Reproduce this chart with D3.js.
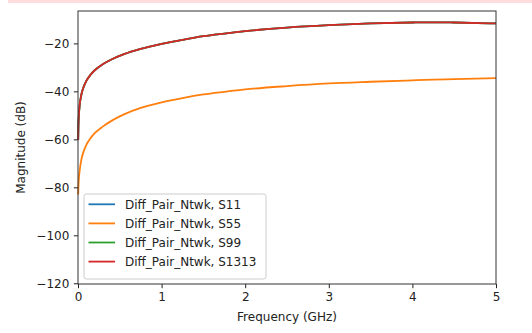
<!DOCTYPE html>
<html>
<head>
<meta charset="utf-8">
<script src="https://cdn.jsdelivr.net/npm/d3@7"></script>
<style>
  body { margin: 0; background: #fff; }
  svg { display: block; font-family: "DejaVu Sans", sans-serif; }
</style>
</head>
<body>
<svg id="chart" width="532" height="333"></svg>
<script>
// ---- data ----
const freqGHz = [0.002, 0.005, 0.01, 0.02, 0.04, 0.07, 0.1, 0.15, 0.2, 0.3, 0.4, 0.55, 0.75,
                 1.0, 1.25, 1.5, 1.75, 2.0, 2.5, 3.0, 3.5, 4.0, 4.25, 4.5, 5.0];
const upperDb = [-60.3, -54.5, -50.2, -45.8, -41.4, -37.9, -35.6, -33.1, -31.2, -28.6, -26.7, -24.5, -22.3,
                 -20.2, -18.5, -17.0, -15.9, -14.9, -13.4, -12.4, -11.7, -11.3, -11.2, -11.3, -11.7];
const lowerDb = [-83, -80, -76.5, -73, -68.5, -64.8, -62.3, -59.5, -57.4, -54.6, -52.3, -49.6, -46.9,
                 -44.6, -42.8, -41.3, -40.2, -39.2, -37.8, -36.7, -36.0, -35.4, -35.1, -34.9, -34.5];
const seriesNames = ["Diff_Pair_Ntwk, S11", "Diff_Pair_Ntwk, S55", "Diff_Pair_Ntwk, S99", "Diff_Pair_Ntwk, S1313"];
const seriesValues = [upperDb, lowerDb, upperDb, upperDb];
const seriesColors = ["#1f77b4", "#ff7f0e", "#2ca02c", "#d62728"];
const xTicks = [0, 1, 2, 3, 4, 5];
const yTicks = [-120, -100, -80, -60, -40, -20];

// ---- layout ----
const svg = d3.select("#chart");
const L = 78, R = 496, T = 11, B = 284;
const x = d3.scaleLinear().domain([0, 5]).range([L, R]);
const y = d3.scaleLinear().domain([-120.3, -6.5]).range([B, T]);

// pink stderr strip at top
svg.append("rect").attr("x", 8).attr("y", 0).attr("width", 524).attr("height", 3).attr("fill", "#ffdddd");

// lines
const line = d3.line().x((d, i) => x(freqGHz[i])).y(d => y(d)).curve(d3.curveMonotoneX);
seriesValues.forEach((vals, k) => {
  svg.append("path").datum(vals).attr("d", line)
    .attr("fill", "none").attr("stroke", seriesColors[k]).attr("stroke-width", 1.8)
    .attr("stroke-linejoin", "round").attr("stroke-linecap", "butt");
});

// axes
const fmt = d => (d < 0 ? "\u2212" + Math.abs(d) : String(d));
const xAxis = svg.append("g").attr("transform", `translate(0,${B})`)
  .call(d3.axisBottom(x).tickValues(xTicks).tickFormat(fmt).tickSizeOuter(0).tickSize(4.2).tickPadding(4.2));
const yAxis = svg.append("g").attr("transform", `translate(${L},0)`)
  .call(d3.axisLeft(y).tickValues(yTicks).tickFormat(fmt).tickSizeOuter(0).tickSize(4.2).tickPadding(4.5));
[xAxis, yAxis].forEach(g => {
  g.select(".domain").remove();
  g.selectAll("line").attr("stroke", "#222").attr("stroke-width", 1);
  g.selectAll("text").attr("fill", "#222").style("font-size", "12px").style("font-family", "DejaVu Sans");
});

// frame
svg.append("rect").attr("x", L).attr("y", T).attr("width", R - L).attr("height", B - T)
  .attr("fill", "none").attr("stroke", "#333").attr("stroke-width", 1);

// axis labels
svg.append("text").attr("x", (L + R) / 2).attr("y", 321).attr("text-anchor", "middle")
  .style("font-size", "12px").attr("fill", "#222").text("Frequency (GHz)");
svg.append("text").attr("transform", `translate(25,${(T + B) / 2}) rotate(-90)`).attr("text-anchor", "middle")
  .style("font-size", "12px").attr("fill", "#222").text("Magnitude (dB)");

// legend
const lg = svg.append("g");
lg.append("rect").attr("x", 84).attr("y", 194).attr("width", 182).attr("height", 85).attr("rx", 2.5)
  .attr("fill", "#fff").attr("fill-opacity", 0.8).attr("stroke", "#ccc").attr("stroke-width", 1);
seriesNames.forEach((name, k) => {
  const yy = 204.3 + k * 19.1;
  lg.append("line").attr("x1", 88.5).attr("x2", 115).attr("y1", yy).attr("y2", yy)
    .attr("stroke", seriesColors[k]).attr("stroke-width", 1.8);
  lg.append("text").attr("x", 125).attr("y", yy).attr("dy", "0.36em")
    .style("font-size", "12px").attr("fill", "#222").text(name);
});
</script>
</body>
</html>
